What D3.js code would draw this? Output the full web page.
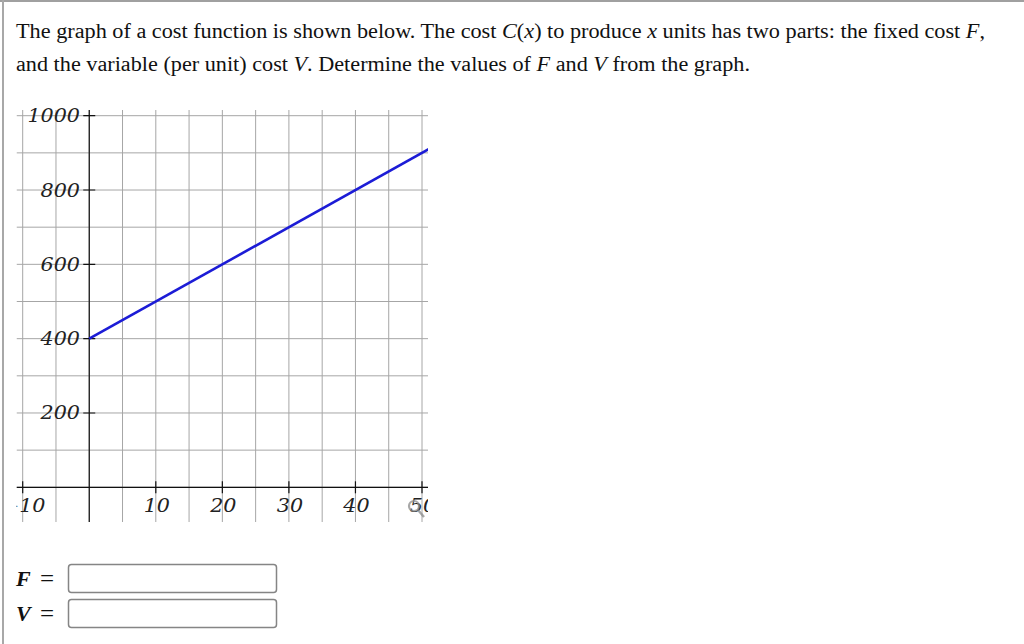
<!DOCTYPE html>
<html lang="en">

<head>
    <meta charset="UTF-8">
    <title>Cost function graph</title>
    <!-- Load d3.js -->
    <script src="https://d3js.org/d3.v7.min.js"></script>
    <style>
        body { margin: 0; background: white; }
        svg { display: block; }
        .serif { font-family: "Liberation Serif", "Times New Roman", Times, "DejaVu Serif", serif; }
    </style>
</head>

<body>
    <div class="container"></div>

    <script>
        // chart data
        const xGrid = [-10, -5, 0, 5, 10, 15, 20, 25, 30, 35, 40, 45, 50];
        const yGrid = [0, 100, 200, 300, 400, 500, 600, 700, 800, 900, 1000];
        const xTicks = [-10, 10, 20, 30, 40, 50];
        const xTickLabels = ["\u221210", "10", "20", "30", "40", "50"];
        const yTicks = [200, 400, 600, 800, 1000];
        const yTickLabels = ["200", "400", "600", "800", "1000"];
        const costX = [0, 51];
        const costY = [400, 910];

        const width = 1024, height = 644;

        const svg = d3.select(".container")
            .append("svg")
            .attr("width", width)
            .attr("height", height);

        // page frame (top and left border)
        svg.append("rect").attr("x", 0).attr("y", 0).attr("width", width).attr("height", 2).attr("fill", "#a0a0a0");
        svg.append("rect").attr("x", 2).attr("y", 0).attr("width", 2).attr("height", height).attr("fill", "#a8a8a8");

        // question text
        const q1 = svg.append("text")
            .attr("class", "serif")
            .attr("x", 16)
            .attr("y", 38)
            .attr("font-size", "20px")
            .attr("fill", "#111")
            .attr("textLength", 969)
            .attr("lengthAdjust", "spacingAndGlyphs");
        q1.append("tspan").text("The graph of a cost function is shown below. The cost ");
        q1.append("tspan").attr("font-style", "italic").text("C");
        q1.append("tspan").text("(");
        q1.append("tspan").attr("font-style", "italic").text("x");
        q1.append("tspan").text(") to produce ");
        q1.append("tspan").attr("font-style", "italic").text("x");
        q1.append("tspan").text(" units has two parts: the fixed cost ");
        q1.append("tspan").attr("font-style", "italic").text("F");
        q1.append("tspan").text(",");

        const q2 = svg.append("text")
            .attr("class", "serif")
            .attr("x", 16)
            .attr("y", 71)
            .attr("font-size", "20px")
            .attr("fill", "#111")
            .attr("textLength", 734)
            .attr("lengthAdjust", "spacingAndGlyphs");
        q2.append("tspan").text("and the variable (per unit) cost ");
        q2.append("tspan").attr("font-style", "italic").text("V");
        q2.append("tspan").text(". Determine the values of ");
        q2.append("tspan").attr("font-style", "italic").text("F");
        q2.append("tspan").text(" and ");
        q2.append("tspan").attr("font-style", "italic").text("V");
        q2.append("tspan").text(" from the graph.");

        // scales
        const x = d3.scaleLinear().domain([-10, 50]).range([22.7, 422]);
        const y = d3.scaleLinear().domain([0, 1000]).range([487.3, 115.7]);

        // plot area clip
        const clip = { x0: 16.5, x1: 428, y0: 110, y1: 522 };
        svg.append("clipPath")
            .attr("id", "plot-clip")
            .append("rect")
            .attr("x", clip.x0)
            .attr("y", clip.y0)
            .attr("width", clip.x1 - clip.x0)
            .attr("height", clip.y1 - clip.y0);

        // labels only clipped left/right
        svg.append("clipPath")
            .attr("id", "label-clip")
            .append("rect")
            .attr("x", clip.x0)
            .attr("y", 0)
            .attr("width", clip.x1 - clip.x0)
            .attr("height", height);

        const plot = svg.append("g").attr("clip-path", "url(#plot-clip)");
        const labels = svg.append("g").attr("clip-path", "url(#label-clip)");

        // grid
        plot.append("g")
            .selectAll("line")
            .data(xGrid)
            .enter()
            .append("line")
            .attr("x1", d => x(d))
            .attr("x2", d => x(d))
            .attr("y1", clip.y0)
            .attr("y2", clip.y1)
            .attr("stroke", "#a6a6a6")
            .attr("stroke-width", 1);

        plot.append("g")
            .selectAll("line")
            .data(yGrid)
            .enter()
            .append("line")
            .attr("x1", clip.x0)
            .attr("x2", clip.x1)
            .attr("y1", d => y(d))
            .attr("y2", d => y(d))
            .attr("stroke", "#a6a6a6")
            .attr("stroke-width", 1);

        // axes
        plot.append("line")
            .attr("x1", clip.x0).attr("x2", clip.x1)
            .attr("y1", y(0)).attr("y2", y(0))
            .attr("stroke", "#111").attr("stroke-width", 1.2);
        plot.append("line")
            .attr("x1", x(0)).attr("x2", x(0))
            .attr("y1", clip.y0).attr("y2", clip.y1)
            .attr("stroke", "#111").attr("stroke-width", 1.2);

        // tick marks
        plot.append("g")
            .selectAll("line")
            .data(xTicks)
            .enter()
            .append("line")
            .attr("x1", d => x(d)).attr("x2", d => x(d))
            .attr("y1", y(0) - 6).attr("y2", y(0) + 6)
            .attr("stroke", "#111").attr("stroke-width", 1.2);

        plot.append("g")
            .selectAll("line")
            .data(yTicks)
            .enter()
            .append("line")
            .attr("x1", x(0) - 6).attr("x2", x(0) + 6)
            .attr("y1", d => y(d)).attr("y2", d => y(d))
            .attr("stroke", "#111").attr("stroke-width", 1.2);

        // tick labels
        labels.append("g")
            .selectAll("text")
            .data(xTicks)
            .enter()
            .append("text")
            .attr("transform", d => `translate(${x(d) + 1}, 512) scale(1.15, 1)`)
            .attr("text-anchor", "middle")
            .attr("font-family", "DejaVu Serif")
            .attr("font-style", "italic")
            .attr("font-size", "18px")
            .attr("fill", "#222")
            .text((d, i) => xTickLabels[i]);

        labels.append("g")
            .selectAll("text")
            .data(yTicks)
            .enter()
            .append("text")
            .attr("transform", d => `translate(80, ${y(d) + 6.5}) scale(1.15, 1)`)
            .attr("text-anchor", "end")
            .attr("font-family", "DejaVu Serif")
            .attr("font-style", "italic")
            .attr("font-size", "18px")
            .attr("fill", "#222")
            .text((d, i) => yTickLabels[i]);

        // cost line
        const line = d3.line()
            .x(d => x(d[0]))
            .y(d => y(d[1]));

        plot.append("path")
            .datum(costX.map((d, i) => [d, costY[i]]))
            .attr("d", line)
            .attr("fill", "none")
            .attr("stroke", "#1c1cd6")
            .attr("stroke-width", 2.6);

        // zoom (magnifier) icon
        const mag = svg.append("g").attr("opacity", 0.75);
        mag.append("circle")
            .attr("cx", 414).attr("cy", 506).attr("r", 5)
            .attr("fill", "none").attr("stroke", "#8c8c8c").attr("stroke-width", 2.2);
        mag.append("line")
            .attr("x1", 418).attr("y1", 510).attr("x2", 424).attr("y2", 517)
            .attr("stroke", "#8c8c8c").attr("stroke-width", 2.4);

        // answer rows
        const answers = ["F", "V"];
        const rowY = [564.5, 599.5];

        const rows = svg.selectAll("g.answer")
            .data(answers)
            .enter()
            .append("g")
            .attr("class", "answer");

        rows.append("text")
            .attr("class", "serif")
            .attr("x", 16)
            .attr("y", (d, i) => rowY[i] + 21)
            .attr("font-style", "italic")
            .attr("font-weight", "bold")
            .attr("font-size", "22px")
            .attr("fill", "#111")
            .text(d => d);

        rows.append("text")
            .attr("class", "serif")
            .attr("x", 40)
            .attr("y", (d, i) => rowY[i] + 22)
            .attr("font-size", "25px")
            .attr("fill", "#111")
            .text("=");

        rows.append("rect")
            .attr("x", 68.5)
            .attr("y", (d, i) => rowY[i])
            .attr("width", 208)
            .attr("height", 28)
            .attr("rx", 3)
            .attr("fill", "white")
            .attr("stroke", "#858585")
            .attr("stroke-width", 1.5);
    </script>
</body>

</html>
